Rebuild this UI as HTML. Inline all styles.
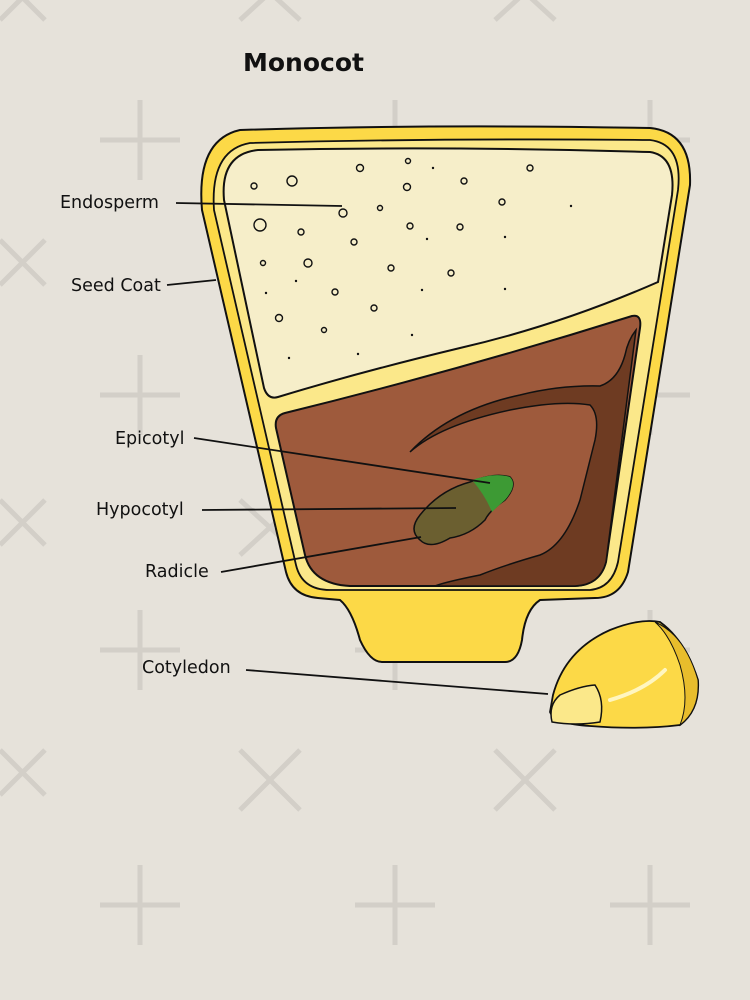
<!DOCTYPE html>
<html><head><meta charset="utf-8"><style>
body{margin:0;width:750px;height:1000px;background:#e6e2da;overflow:hidden}
svg{display:block}
text{font-family:"DejaVu Sans","Liberation Sans",sans-serif;fill:#111}
</style></head><body>
<svg width="750" height="1000" viewBox="0 0 750 1000">
<rect width="750" height="1000" fill="#e6e2da"/>
<g stroke="#cbc8c1" stroke-width="5" fill="none" opacity="0.7">
<path d="M0 20 L45 -25 M0 -25 L45 20"/>
<path d="M240 20 L300 -35 M240 -35 L300 20"/>
<path d="M495 20 L555 -35 M495 -35 L555 20"/>
<path d="M0 240 L45 285 M0 285 L45 240"/>
<path d="M240 240 L300 300 M240 300 L300 240"/>
<path d="M495 240 L555 300 M495 300 L555 240"/>
<path d="M0 500 L45 545 M0 545 L45 500"/>
<path d="M240 500 L300 555 M240 555 L300 500"/>
<path d="M495 500 L555 555 M495 555 L555 500"/>
<path d="M0 750 L45 795 M0 795 L45 750"/>
<path d="M240 750 L300 810 M240 810 L300 750"/>
<path d="M495 750 L555 810 M495 810 L555 750"/>
<path d="M100 140 H180 M140 100 V180 M355 140 H435 M395 100 V180 M610 140 H690 M650 100 V180"/>
<path d="M100 395 H180 M140 355 V435 M355 395 H435 M395 355 V435 M610 395 H690 M650 355 V435"/>
<path d="M100 650 H180 M140 610 V690 M355 650 H435 M395 610 V690 M610 650 H690 M650 610 V690"/>
<path d="M100 905 H180 M140 865 V945 M355 905 H435 M395 865 V945 M610 905 H690 M650 865 V945"/>
</g>
<text x="243" y="71" font-size="25" font-weight="bold">Monocot</text>
<path d="M240 130 Q430 124 650 128 Q692 132 690 185 L628 572 Q620 598 595 598 L540 600 Q525 610 522 640 Q518 662 505 662 L382 662 Q370 662 360 640 Q352 610 340 600 L318 598 Q292 596 286 572 L202 210 Q196 140 240 130 Z" fill="#fcd947" stroke="#111" stroke-width="2"/>
<path d="M250 143 Q440 138 650 140 Q683 144 678 190 L618 562 Q612 588 590 590 L330 590 Q302 590 296 565 L214 210 Q210 150 250 143 Z" fill="#fbe88a" stroke="#111" stroke-width="1.8"/>
<path d="M258 150 Q450 146 650 152 Q676 156 672 195 L658 282 Q560 325 460 348 Q360 372 278 397 Q268 400 264 388 L224 200 Q220 154 258 150 Z" fill="#f6eec9" stroke="#111" stroke-width="2"/>
<path d="M285 413 Q460 370 632 316 Q642 314 640 328 L606 562 Q600 585 575 586 L350 586 Q312 584 305 555 L276 428 Q274 416 285 413 Z" fill="#9e5a3c" stroke="#111" stroke-width="2"/>
<path d="M636 330 Q628 340 625 355 Q618 380 600 386 Q560 385 520 395 Q450 410 410 452 Q440 425 510 410 Q560 400 590 405 Q600 415 595 440 L580 500 Q565 545 540 555 Q505 565 480 575 Q445 582 435 586 L575 586 Q600 585 606 562 Z" fill="#6e3b22" stroke="#111" stroke-width="1.5"/>
<path d="M420 540 Q408 530 420 515 Q440 490 470 482 Q495 472 510 477 Q518 485 505 500 Q490 510 485 520 Q470 535 450 538 Q430 550 420 540 Z" fill="#6b5f30" stroke="#111" stroke-width="1.5"/>
<path d="M472 480 Q495 472 510 477 Q518 485 505 500 Q497 507 492 512 Q485 495 472 480 Z" fill="#3d9a34"/>
<g fill="none" stroke="#111" stroke-width="1.4">
<circle cx="292" cy="181" r="5"/><circle cx="254" cy="186" r="3"/><circle cx="260" cy="225" r="6"/><circle cx="343" cy="213" r="4"/><circle cx="360" cy="168" r="3.5"/><circle cx="408" cy="161" r="2.5"/><circle cx="407" cy="187" r="3.5"/><circle cx="464" cy="181" r="3"/><circle cx="530" cy="168" r="3"/><circle cx="502" cy="202" r="3"/><circle cx="380" cy="208" r="2.5"/><circle cx="301" cy="232" r="3"/><circle cx="354" cy="242" r="3"/><circle cx="410" cy="226" r="3"/><circle cx="460" cy="227" r="3"/><circle cx="308" cy="263" r="4"/><circle cx="391" cy="268" r="3"/><circle cx="451" cy="273" r="3"/><circle cx="335" cy="292" r="3"/><circle cx="374" cy="308" r="3"/><circle cx="279" cy="318" r="3.5"/><circle cx="324" cy="330" r="2.5"/><circle cx="263" cy="263" r="2.5"/>
</g>
<g fill="#111"><circle cx="433" cy="168" r="1.2"/><circle cx="571" cy="206" r="1.2"/><circle cx="427" cy="239" r="1.2"/><circle cx="505" cy="237" r="1.2"/><circle cx="296" cy="281" r="1.2"/><circle cx="266" cy="293" r="1.2"/><circle cx="422" cy="290" r="1.2"/><circle cx="412" cy="335" r="1.2"/><circle cx="358" cy="354" r="1.2"/><circle cx="289" cy="358" r="1.2"/><circle cx="505" cy="289" r="1.2"/></g>
<path d="M553 695 Q565 650 610 630 Q640 618 660 622 Q685 640 698 680 Q700 710 680 725 Q640 730 590 726 Q555 724 550 712 Z" fill="#fcd947" stroke="#111" stroke-width="1.8"/>
<path d="M655 622 Q685 635 698 680 Q700 710 680 725 Q690 700 680 665 Q670 635 655 622 Z" fill="#e8bd2c" stroke="#111" stroke-width="1"/>
<path d="M560 695 Q580 686 595 685 Q605 700 600 722 Q575 726 552 722 Q548 705 560 695 Z" fill="#fbe88a" stroke="#111" stroke-width="1.5"/>
<path d="M610 700 Q645 690 665 670" stroke="#fff6c0" stroke-width="4" fill="none" stroke-linecap="round"/>
<g font-size="17.5">
<text x="60" y="208">Endosperm</text>
<text x="71" y="291">Seed Coat</text>
<text x="115" y="444">Epicotyl</text>
<text x="96" y="515">Hypocotyl</text>
<text x="145" y="577">Radicle</text>
<text x="142" y="673">Cotyledon</text>
</g>
<g stroke="#111" stroke-width="1.8">
<line x1="176" y1="203" x2="342" y2="206"/>
<line x1="167" y1="285" x2="216" y2="280"/>
<line x1="194" y1="438" x2="490" y2="483"/>
<line x1="202" y1="510" x2="456" y2="508"/>
<line x1="221" y1="572" x2="421" y2="537"/>
<line x1="246" y1="670" x2="548" y2="694"/>
</g>
</svg>
</body></html>
